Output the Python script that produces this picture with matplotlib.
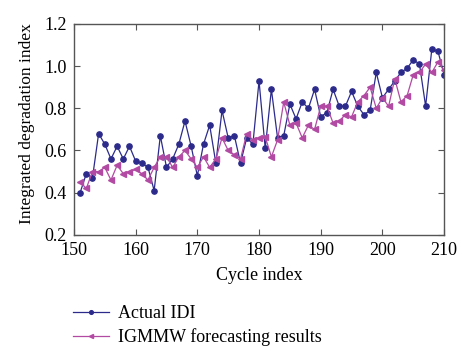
import numpy as np
import matplotlib.pyplot as plt

plt.rcParams['font.family'] = ['Liberation Serif', 'DejaVu Serif']

cycles = np.arange(151, 211)

actual_idi = [0.40, 0.49, 0.47, 0.68, 0.63, 0.56, 0.62, 0.56, 0.62, 0.55,
              0.54, 0.52, 0.41, 0.67, 0.52, 0.56, 0.63, 0.74, 0.62, 0.48,
              0.63, 0.72, 0.54, 0.79, 0.66, 0.67, 0.54, 0.66, 0.63, 0.93,
              0.61, 0.89, 0.66, 0.67, 0.82, 0.75, 0.83, 0.80, 0.89, 0.76,
              0.78, 0.89, 0.81, 0.81, 0.88, 0.81, 0.77, 0.79, 0.97, 0.85,
              0.89, 0.93, 0.97, 0.99, 1.03, 1.01, 0.81, 1.08, 1.07, 0.96]

igmmw = [0.45, 0.42, 0.50, 0.50, 0.52, 0.46, 0.53, 0.49, 0.50, 0.51,
         0.49, 0.46, 0.52, 0.57, 0.57, 0.52, 0.57, 0.60, 0.56, 0.52,
         0.57, 0.52, 0.56, 0.66, 0.60, 0.58, 0.56, 0.68, 0.65, 0.66,
         0.665, 0.57, 0.65, 0.83, 0.72, 0.73, 0.66, 0.72, 0.70, 0.81,
         0.81, 0.73, 0.74, 0.77, 0.76, 0.83, 0.86, 0.90, 0.80, 0.85,
         0.81, 0.94, 0.83, 0.86, 0.96, 0.97, 1.01, 0.97, 1.02, 0.98]

blue = '#2c2b8c'
magenta = '#b24aa3'

fig = plt.figure(figsize=(4.74, 3.63), dpi=100)
ax = fig.add_axes([0.156, 0.353, 0.781, 0.581])

ax.plot(cycles, actual_idi, color=blue, lw=0.9, marker='o', ms=3.8,
        label='Actual IDI')
ax.plot(cycles, igmmw, color=magenta, lw=0.9, marker='<', ms=4.2,
        label='IGMMW forecasting results')

ax.set_xlim(150, 210)
ax.set_ylim(0.2, 1.2)
ax.set_xticks(np.arange(150, 211, 10))
ax.set_yticks([0.2, 0.4, 0.6, 0.8, 1.0, 1.2])
ax.set_yticklabels(['0.2', '0.4', '0.6', '0.8', '1.0', '1.2'])
ax.tick_params(direction='in', top=True, right=True, labelsize=13,
               length=4, color='#555555', pad=5)
for s in ax.spines.values():
    s.set_color('#555555')
    s.set_linewidth(1.0)

ax.set_xlabel('Cycle index', fontsize=13)
ax.set_ylabel('Integrated degradation index', fontsize=12.5)
ax.xaxis.set_label_coords(0.5, -0.152)
ax.yaxis.set_label_coords(-0.105, 0.53)

fig.legend(loc='upper left', bbox_to_anchor=(0.138, 0.18), frameon=False,
           fontsize=13, handlelength=2.0, handletextpad=0.5,
           labelspacing=0.35, markerscale=0.7, borderaxespad=0)

fig.savefig('out.png', dpi=100)
